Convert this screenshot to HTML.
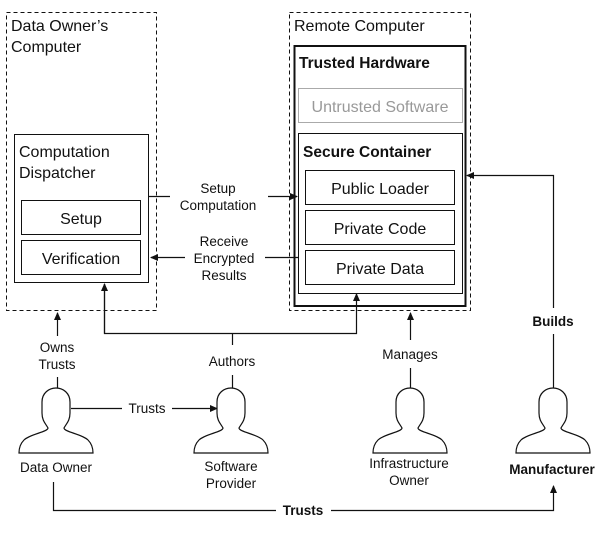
<!DOCTYPE html>
<html><head><style>
html,body{margin:0;padding:0;background:#fff;}
svg{display:block;}
text{font-family:"Liberation Sans",Arial,sans-serif;fill:#111;}
</style></head><body>
<svg width="613" height="537" viewBox="0 0 613 537" xmlns="http://www.w3.org/2000/svg">
<defs>
<marker id="a" markerWidth="8" markerHeight="8" refX="7" refY="4" orient="auto" markerUnits="userSpaceOnUse">
<path d="M0,0.5 L8,4 L0,7.5 Z" fill="#111"/></marker>
<g id="p" fill="#fff" stroke="#111" stroke-width="1.2">
<path d="M-8,40 C-10,36 -14,33 -14,25 L-14,14 C-14,5 -7,0 0,0 C7,0 14,5 14,14 L14,25 C14,33 10,36 8,40 C8,44 26,46 32,52 C36,56 37,60 37,65 L-37,65 C-37,60 -36,56 -32,52 C-26,46 -8,44 -8,40 Z"/>
</g>
</defs>

<!-- left computer -->
<rect x="6.5" y="12.5" width="150" height="298" fill="none" stroke="#111" stroke-dasharray="4,3"/>
<text x="11" y="31" font-size="16">Data Owner’s</text>
<text x="11" y="52" font-size="16">Computer</text>
<rect x="14.5" y="134.5" width="134" height="148" fill="#fff" stroke="#111"/>
<text x="19" y="157" font-size="16">Computation</text>
<text x="19" y="178" font-size="16">Dispatcher</text>
<rect x="21.5" y="200.5" width="119" height="34" fill="#fff" stroke="#111"/>
<text x="81" y="224" font-size="16" text-anchor="middle">Setup</text>
<rect x="21.5" y="240.5" width="119" height="34" fill="#fff" stroke="#111"/>
<text x="81" y="264" font-size="16" text-anchor="middle">Verification</text>

<!-- remote computer -->
<rect x="289.5" y="12.5" width="181" height="298" fill="none" stroke="#111" stroke-dasharray="4,3"/>
<text x="294" y="31" font-size="16">Remote Computer</text>
<rect x="294.5" y="46" width="171" height="260" fill="#fff" stroke="#111" stroke-width="2"/>
<text x="299" y="68" font-size="15.5" font-weight="bold">Trusted Hardware</text>
<rect x="298.5" y="88.5" width="164" height="34" fill="#fff" stroke="#aaa"/>
<text x="380" y="112" font-size="16" style="fill:#999" text-anchor="middle">Untrusted Software</text>
<rect x="298.5" y="133.5" width="164" height="160" fill="#fff" stroke="#111"/>
<text x="303" y="157" font-size="15.5" font-weight="bold">Secure Container</text>
<rect x="305.5" y="170.5" width="149" height="34" fill="#fff" stroke="#111"/>
<text x="380" y="194" font-size="16" text-anchor="middle">Public Loader</text>
<rect x="305.5" y="210.5" width="149" height="34" fill="#fff" stroke="#111"/>
<text x="380" y="234" font-size="16" text-anchor="middle">Private Code</text>
<rect x="305.5" y="250.5" width="149" height="34" fill="#fff" stroke="#111"/>
<text x="380" y="274" font-size="16" text-anchor="middle">Private Data</text>

<g stroke="#111" stroke-width="1.2" fill="none">
<line x1="149" y1="196.5" x2="170" y2="196.5"/>
<line x1="268" y1="196.5" x2="297" y2="196.5" marker-end="url(#a)"/>
<line x1="298" y1="257.5" x2="265" y2="257.5"/>
<line x1="185" y1="257.5" x2="151" y2="257.5" marker-end="url(#a)"/>
<polyline points="104.5,284 104.5,333.5 356.5,333.5 356.5,294" marker-end="url(#a)"/>
<line x1="104.5" y1="333.5" x2="104.5" y2="284" marker-end="url(#a)"/>
<line x1="232.5" y1="333.5" x2="232.5" y2="345"/>
<line x1="232.5" y1="375" x2="232.5" y2="389"/>
<line x1="57.5" y1="336" x2="57.5" y2="313" marker-end="url(#a)"/>
<line x1="57.5" y1="377" x2="57.5" y2="389"/>
<line x1="410.5" y1="340" x2="410.5" y2="313" marker-end="url(#a)"/>
<line x1="410.5" y1="368" x2="410.5" y2="389"/>
<polyline points="553.5,308 553.5,175.5 467,175.5" marker-end="url(#a)"/>
<line x1="553.5" y1="334" x2="553.5" y2="389"/>
<line x1="71" y1="408.5" x2="122" y2="408.5"/>
<line x1="172" y1="408.5" x2="217" y2="408.5" marker-end="url(#a)"/>
<polyline points="53.5,482 53.5,510.5 276,510.5"/>
<polyline points="331,510.5 553.5,510.5 553.5,486" marker-end="url(#a)"/>
</g>
<text x="218" y="193" font-size="13.5" text-anchor="middle">Setup</text>
<text x="218" y="210" font-size="13.5" text-anchor="middle">Computation</text>
<text x="224" y="246" font-size="13.5" text-anchor="middle">Receive</text>
<text x="224" y="263" font-size="13.5" text-anchor="middle">Encrypted</text>
<text x="224" y="280" font-size="13.5" text-anchor="middle">Results</text>
<text x="57" y="352" font-size="13.5" text-anchor="middle">Owns</text>
<text x="57" y="369" font-size="13.5" text-anchor="middle">Trusts</text>
<text x="232" y="366" font-size="13.5" text-anchor="middle">Authors</text>
<text x="410" y="359" font-size="13.5" text-anchor="middle">Manages</text>
<text x="553" y="326" font-size="13.5" font-weight="bold" text-anchor="middle">Builds</text>
<text x="147" y="413" font-size="13.5" text-anchor="middle">Trusts</text>
<text x="303" y="515" font-size="13.5" font-weight="bold" text-anchor="middle">Trusts</text>

<use href="#p" x="56" y="388"/>
<use href="#p" x="231" y="388"/>
<use href="#p" x="410" y="388"/>
<use href="#p" x="553" y="388"/>
<text x="56" y="472" font-size="13.5" text-anchor="middle">Data Owner</text>
<text x="231" y="471" font-size="13.5" text-anchor="middle">Software</text>
<text x="231" y="488" font-size="13.5" text-anchor="middle">Provider</text>
<text x="409" y="468" font-size="13.5" text-anchor="middle">Infrastructure</text>
<text x="409" y="485" font-size="13.5" text-anchor="middle">Owner</text>
<text x="552" y="474" font-size="13.5" font-weight="bold" text-anchor="middle">Manufacturer</text>
</svg>
</body></html>
